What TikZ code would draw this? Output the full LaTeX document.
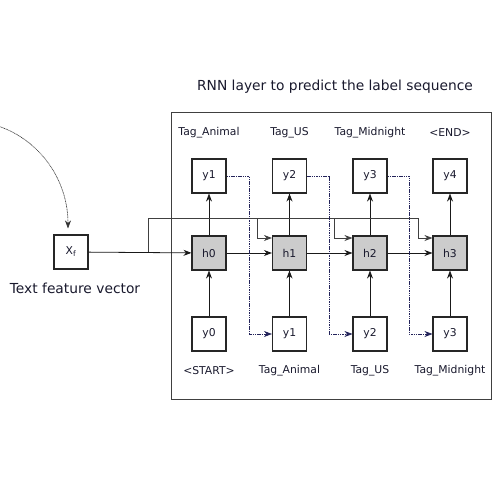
\documentclass[tikz,border=0pt]{standalone}
\usepackage{fontspec}
\setmainfont{DejaVu Sans}
\usetikzlibrary{arrows.meta,calc}
\definecolor{txt}{RGB}{25,25,45}
\definecolor{navy}{RGB}{35,35,90}
\begin{document}
\begin{tikzpicture}[x=1pt,y=-1pt,
  box/.style={draw=black!85,line width=1.1pt,minimum width=34pt,minimum height=34pt,inner sep=0pt,text=txt,font=\fontsize{10.8}{12}\selectfont},
  hbox/.style={box,fill=black!20},
  lbl/.style={text=txt,font=\fontsize{10.8}{12}\selectfont},
  big/.style={text=txt,font=\fontsize{13.8}{15}\selectfont},
  arr/.style={-{Stealth[length=8pt,width=6pt]},line width=0.8pt,draw=black!90},
  feed/.style={line width=0.8pt,draw=black!75},
  fb/.style={dash pattern=on 1.5pt off 0.8pt,draw=navy,line width=0.7pt,-{Stealth[length=8pt,width=6pt]}},
]
\useasboundingbox (0,0) rectangle (503,501);
\node[draw=black!75,line width=0.9pt,minimum width=320pt,minimum height=287pt,inner sep=0pt] (frame) at (331,255.5) {};
\node[big] (title) at (335,87) {RNN layer to predict the label sequence};

% input
\node[box] (xf) at (71,252) {X\textsubscript{f}};
\node[big] (tfv) at (75,288) {Text feature vector};
\coordinate (src) at (-2,126);
\draw[dash pattern=on 1pt off 0.6pt,line width=0.6pt,draw=black!80,-{Stealth[length=8pt,width=6pt]}] (src) .. controls (40,140) and (68,180) .. ($(xf.north)+(-3,-6)$);

% hidden
\foreach \i/\x in {0/209,1/289.5,2/370,3/450}{
  \node[hbox] (h\i) at (\x,253) {h\i};
}
% top outputs
\foreach \i/\x/\n/\t in {0/209/1/Tag\_Animal,1/289.5/2/Tag\_US,2/370/3/Tag\_Midnight,3/450/4/<END>}{
  \node[box] (yt\i) at (\x,176) {y\n};
  \node[lbl] (lt\i) at (\x,133) {\t};
  \draw[arr] (h\i) -- (yt\i);
}
% bottom inputs
\foreach \i/\x/\n/\t in {0/209/0/<START>,1/289.5/1/Tag\_Animal,2/370/2/Tag\_US,3/450/3/Tag\_Midnight}{
  \node[box] (yb\i) at (\x,334) {y\n};
  \node[lbl] (lb\i) at (\x,371) {\t};
  \draw[arr] (yb\i) -- (h\i);
}
% recurrent
\draw[arr] (xf) -- (h0);
\draw[arr] (h0) -- (h1);
\draw[arr] (h1) -- (h2);
\draw[arr] (h2) -- (h3);

% context feed
\coordinate (j0) at (148,252);
\coordinate (t0) at (148,218);
\coordinate (t1) at (257,218);
\coordinate (t2) at (334,218);
\coordinate (t3) at (418,218);
\draw[feed] (j0) -- (t0) -- (t3);
\draw[arr,draw=black!75] (t1) |- ([yshift=15pt]h1.west);
\draw[arr,draw=black!75] (t2) |- ([yshift=15pt]h2.west);
\draw[arr,draw=black!75] (t3) |- ([yshift=15pt]h3.west);

% feedback of predictions
\coordinate (d1) at (249,176);
\coordinate (d2) at (329,176);
\coordinate (d3) at (409,176);
\draw[fb] (yt0.east) -- (d1) |- (yb1.west);
\draw[fb] (yt1.east) -- (d2) |- (yb2.west);
\draw[fb] (yt2.east) -- (d3) |- (yb3.west);
\end{tikzpicture}
\end{document}
